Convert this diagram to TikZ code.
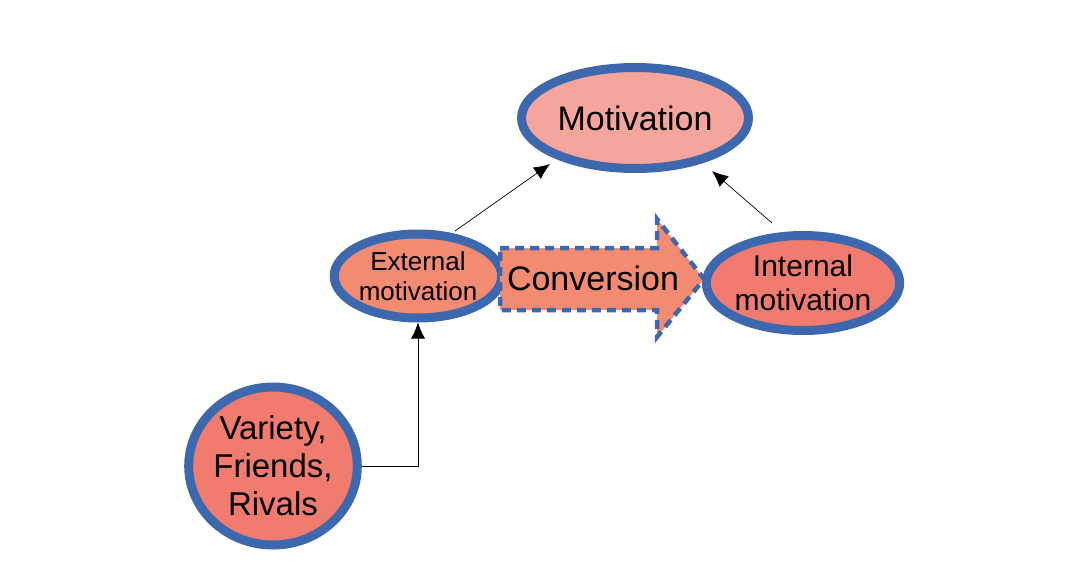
\documentclass[tikz,border=0pt]{standalone}
\usepackage{fontspec}
\setmainfont{Liberation Sans}
\usetikzlibrary{shapes.geometric,arrows.meta}
\definecolor{bd}{HTML}{3D68AD}
\definecolor{f1}{HTML}{F5A59B}
\definecolor{f2}{HTML}{F38B73}
\definecolor{f3}{HTML}{F07B6E}
\begin{document}
\begin{tikzpicture}[x=1pt,y=-1pt,
 ell/.style={ellipse,draw=bd,line width=9pt,inner sep=0pt,align=center,text=black},
 con/.style={-{Latex[length=16pt,width=14pt]},line width=0.7pt}]
\useasboundingbox (0,0) rectangle (1082,568);
\node[ell,fill=f1,minimum width=227pt,minimum height=101pt,font=\fontsize{34}{38}\selectfont] (m) at (635,118) {Motivation};
\node[ell,fill=f2,minimum width=155pt,minimum height=84pt,font=\fontsize{26}{30}\selectfont] (e) at (418,276) {External\\motivation};
\node[ell,fill=f3,minimum width=185pt,minimum height=95pt,font=\fontsize{30}{34}\selectfont] (i) at (803,283) {Internal\\motivation};
\node[ell,fill=f3,minimum width=158pt,minimum height=158pt,font=\fontsize{33}{38}\selectfont] (v) at (273,466) {Variety,\\Friends,\\Rivals};
\draw[bd,line width=4.5pt,dash pattern=on 9pt off 6pt,fill=f2,line join=miter]
 (500,248) -- (657,248) -- (657,219) -- (704,279) -- (657,337) -- (657,310) -- (500,310) -- cycle;
\node[font=\fontsize{34}{38}\selectfont] (c) at (593,278) {Conversion};
\coordinate (ea) at (455,231);
\coordinate (ia) at (772,223);
\draw[con] (ea) -- (550,164);
\draw[con] (ia) -- (712,171);
\draw[con] (v.east) -| (e.south);
\end{tikzpicture}
\end{document}
